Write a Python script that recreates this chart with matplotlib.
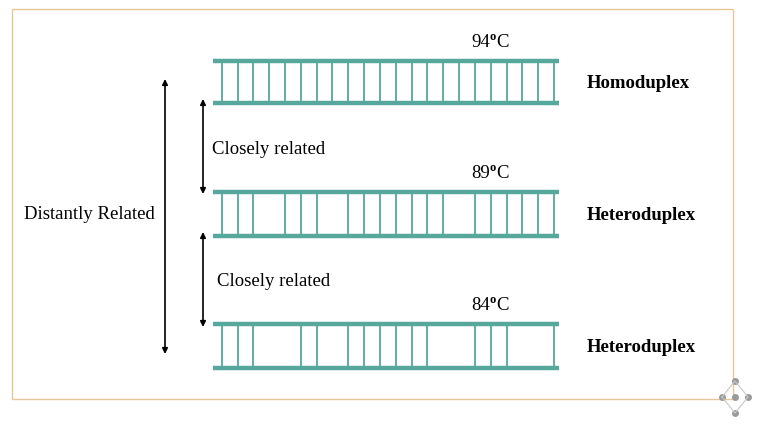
import matplotlib
matplotlib.use("Agg")
import matplotlib.pyplot as plt
from matplotlib.patches import Rectangle, FancyArrowPatch

temps = ["94", "89", "84"]
labels = ["Homoduplex", "Heteroduplex", "Heteroduplex"]
n_slots = 22
missing = [[], [3, 7, 15], [3, 4, 7, 14, 15, 19, 20]]
rail_y = [(61.7, 104), (193, 237), (325, 369)]

plt.rcParams['font.family'] = ['Liberation Serif', 'DejaVu Serif']
fig = plt.figure(figsize=(7.68, 4.35), dpi=100)
ax = fig.add_axes([0, 0, 1, 1])
ax.set_xlim(0, 768); ax.set_ylim(435, 0); ax.axis('off')

ax.add_patch(Rectangle((12, 10), 721, 390, fill=False, ec='#e6c79a', lw=1))
teal = '#55a89b'
x0, x1 = 213, 559
r0, r1 = 221.7, 554
step = (r1 - r0) / (n_slots - 1)
for (yt, yb), miss, t, lab in zip(rail_y, missing, temps, labels):
    ax.plot([x0, x1], [yt, yt], color=teal, lw=3.2, solid_capstyle='butt')
    ax.plot([x0, x1], [yb, yb], color=teal, lw=3.2, solid_capstyle='butt')
    for i in range(n_slots):
        if i in miss:
            continue
        x = r0 + i * step
        ax.plot([x, x], [yt, yb], color=teal, lw=1.3)
    ax.text(471, yt - 15, t, fontsize=13.5, ha='left', va='baseline')
    ax.text(489, yt - 22, "o", fontsize=9, fontweight='bold', ha='left', va='baseline')
    ax.text(496, yt - 15, "C", fontsize=13.5, ha='left', va='baseline')
    ax.text(587, (yt + yb) / 2 + 1, lab, fontsize=13.5, fontweight='bold', ha='left', va='center')

def arrow(x, y0, y1):
    ax.add_patch(FancyArrowPatch((x, y0), (x, y1), arrowstyle='<|-|>', mutation_scale=8, color='black', lw=1.2, shrinkA=0, shrinkB=0))

arrow(165, 80, 355)
arrow(203, 100, 195)
arrow(203, 233, 328)
ax.text(212, 150, "Closely related", fontsize=13.5, va='center')
ax.text(217, 282, "Closely related", fontsize=13.5, va='center')
ax.text(24, 215, "Distantly Related", fontsize=13.5, va='center')

for (lx, ly) in [(735, 382), (722, 398), (748, 398), (735, 414), (735, 398)]:
    ax.plot(lx, ly, 'o', color='#9a9a9a', ms=4)
ax.plot([722, 735, 748, 735, 722], [398, 382, 398, 414, 398], color='#c8c8c8', lw=0.8)

fig.savefig("out.png", dpi=100)
